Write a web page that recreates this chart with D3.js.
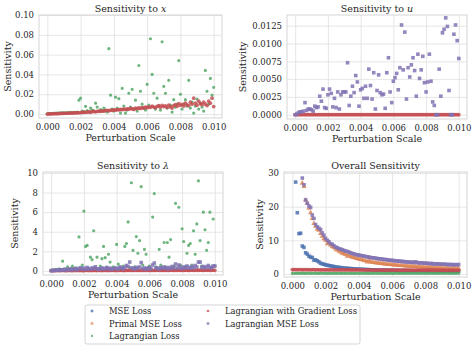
<!DOCTYPE html>
<html>
<head>
<meta charset="utf-8">
<script src="https://cdn.jsdelivr.net/npm/d3@7"></script>
<style>
  body { margin: 0; background: #fff; }
  text { font-family: "DejaVu Serif", serif; fill: #262626; }
</style>
</head>
<body>
<div id="chart"></div>
<script>
// perturbation scale grid (0.0000 .. 0.0100)
let scales = d3.range(0, 101).map(i => +(i * 0.0001).toFixed(4));

let seriesNames = ["MSE Loss", "Primal MSE Loss", "Lagrangian Loss", "Lagrangian with Gradient Loss", "Lagrangian MSE Loss"];
let xTicks = [0, 0.002, 0.004, 0.006, 0.008, 0.010];

// Sensitivity to x
let xLagrangian = [0.0003,0.0004,0.0006,0.0005,0.0008,0.0007,0.0009,0.0010,0.0012,0.0011,
0.0013,0.0012,0.0015,0.0014,0.0016,0.0013,0.0018,0.0015,0.0020,0.0140,
0.0160,0.0030,0.0025,0.0078,0.0035,0.0020,0.0060,0.0040,0.0030,0.0110,
0.0070,0.0025,0.0045,0.0030,0.0060,0.0040,0.0020,0.0660,0.0190,0.0050,
0.0030,0.0170,0.0060,0.0155,0.0010,0.0260,0.0080,0.0010,0.0040,0.0210,
0.0070,0.0250,0.0050,0.0140,0.0030,0.0490,0.0230,0.0100,0.0060,0.0040,
0.0300,0.0090,0.0760,0.0400,0.0210,0.0050,0.0160,0.0080,0.0040,0.0730,
0.0280,0.0210,0.0060,0.0340,0.0090,0.0020,0.0145,0.0070,0.0100,0.0540,
0.0200,0.0050,0.0100,0.0145,0.0080,0.0340,0.0060,0.0120,0.0010,0.0080,
0.0150,0.0050,0.0110,0.0070,0.0030,0.0440,0.0230,0.0100,0.0360,0.0190,0.0270];
let xGradient = [0.0000,0.0001,0.0002,0.0002,0.0003,0.0004,0.0004,0.0005,0.0006,0.0006,
0.0007,0.0008,0.0008,0.0009,0.0010,0.0010,0.0011,0.0012,0.0012,0.0013,
0.0015,0.0016,0.0018,0.0017,0.0020,0.0022,0.0019,0.0024,0.0026,0.0023,
0.0028,0.0030,0.0027,0.0032,0.0029,0.0035,0.0038,0.0033,0.0040,0.0036,
0.0042,0.0039,0.0045,0.0041,0.0048,0.0044,0.0050,0.0046,0.0053,0.0049,
0.0058,0.0052,0.0047,0.0060,0.0055,0.0062,0.0057,0.0066,0.0059,0.0070,
0.0064,0.0073,0.0068,0.0080,0.0071,0.0065,0.0078,0.0084,0.0069,0.0088,
0.0075,0.0082,0.0066,0.0090,0.0072,0.0060,0.0085,0.0095,0.0078,0.0105,
0.0088,0.0098,0.0080,0.0110,0.0092,0.0085,0.0120,0.0100,0.0160,0.0110,
0.0090,0.0130,0.0105,0.0095,0.0120,0.0100,0.0085,0.0130,0.0110,0.0160,0.0075];

// Sensitivity to u
let uGradient = [0,0,0,0,0,0,0,0,0,0, 0,0,0,0,0,0,0,0,0,0, 0,0,0,0,0,0,0,0,0,0,
0,0,0,0,0,0,0,0,0,0, 0,0,0,0,0,0,0,0,0,0, 0,0,0,0,0,0,0,0,0,0,
0,0,0,0,0,0,0,0,0,0, 0,0,0,0,0,0,0,0,0,0, 0,0,0,0,0,0,0,0,0,0,
0,0,0,0,0,0,0,0,0,0, 0];
let uLagMSE = [0.0000,0.0001,0.0003,0.0004,0.0004,0.0005,0.0017,0.0006,0.0008,0.0008,
0.0007,0.0005,0.0012,0.0010,0.0011,0.0026,0.0019,0.0036,0.0010,0.0009,
0.0028,0.0036,0.0030,0.0011,0.0023,0.0010,0.0032,0.0008,0.0028,0.0032,
0.0032,0.0032,0.0073,0.0013,0.0026,0.0040,0.0031,0.0055,0.0046,0.0012,
0.0035,0.0037,0.0023,0.0040,0.0023,0.0064,0.0041,0.0022,0.0059,0.0008,
0.0034,0.0056,0.0031,0.0028,0.0029,0.0009,0.0059,0.0080,0.0032,0.0017,
0.0047,0.0052,0.0058,0.0035,0.0066,0.0126,0.0063,0.0116,0.0022,0.0066,
0.0053,0.0070,0.0080,0.0062,0.0026,0.0085,0.0051,0.0063,0.0082,0.0045,
0.0032,0.0046,0.0085,0.0047,0.0018,0.0013,0.0000,0.0000,0.0064,0.0026,
0.0115,0.0120,0.0136,0.0124,0.0034,0.0000,0.0000,0.0113,0.0126,0.0104,0.0079];

// Sensitivity to lambda
let lamLagrangian = [0.05,0.10,0.08,0.15,0.10,0.20,0.12,0.99,0.20,0.15,
0.40,0.10,0.25,0.50,0.20,0.30,0.15,3.47,0.30,0.60,
6.10,2.50,2.60,0.20,1.40,1.15,4.10,0.30,1.40,0.20,
0.50,1.25,2.50,1.35,0.30,1.70,0.90,0.20,0.40,0.10,
2.70,0.70,0.30,0.20,0.50,2.50,2.80,5.00,0.30,9.00,
2.10,0.40,3.50,1.80,3.10,8.60,0.60,2.20,1.70,0.30,
0.50,0.20,5.50,7.90,0.40,0.30,2.20,0.60,0.20,2.90,
0.40,2.90,1.40,3.20,0.30,0.50,6.90,0.20,6.50,0.60,
4.30,3.00,0.40,1.80,2.60,2.80,0.60,4.10,1.70,4.80,
9.20,3.10,0.50,6.00,4.20,2.10,2.90,6.00,0.40,5.30,0.50];
let lamGradient = [0.02,0.03,0.02,0.03,0.04,0.02,0.03,0.04,0.03,0.02,
0.03,0.04,0.03,0.02,0.04,0.03,0.05,0.03,0.04,0.02,
0.03,0.04,0.05,0.03,0.04,0.03,0.05,0.04,0.03,0.04,
0.05,0.03,0.04,0.05,0.04,0.03,0.05,0.04,0.06,0.03,
0.04,0.05,0.04,0.06,0.03,0.05,0.04,0.06,0.05,0.04,
0.05,0.06,0.04,0.05,0.06,0.04,0.05,0.06,0.05,0.04,
0.06,0.05,0.04,0.06,0.05,0.07,0.04,0.05,0.06,0.05,
0.06,0.04,0.05,0.07,0.06,0.05,0.06,0.04,0.07,0.05,
0.06,0.05,0.07,0.06,0.05,0.06,0.07,0.05,0.06,0.08,
0.05,0.07,0.06,0.05,0.07,0.06,0.08,0.05,0.06,0.07,0.06];
let lamLagMSE = [0.02,0.04,0.05,0.08,0.06,0.10,0.08,0.12,0.10,0.15,
0.12,0.18,0.10,0.20,0.14,0.22,0.12,0.25,0.30,0.18,
0.28,0.15,0.35,0.20,0.18,0.30,0.25,0.42,0.20,0.15,
0.22,0.30,0.18,0.25,0.35,0.20,0.28,0.15,0.22,0.30,
0.25,0.18,0.40,0.30,0.22,0.35,0.55,0.45,0.90,0.30,
0.25,0.20,0.35,0.28,0.40,0.85,0.22,0.30,0.18,0.25,
0.35,0.20,0.60,0.80,0.30,0.25,0.20,0.35,0.28,0.40,
0.30,0.22,0.35,0.25,0.45,0.30,0.70,0.28,0.60,0.35,
0.25,0.40,0.30,0.50,0.35,0.28,0.45,0.30,0.55,0.40,
0.90,0.90,0.35,0.45,0.30,0.40,0.55,0.35,0.30,0.50,0.50];

// Overall sensitivity
let allMSE = [null,null,27.3,18.2,12.0,12.1,8.3,7.9,6.3,5.9,
5.3,5.0,4.9,4.1,4.2,3.9,3.6,3.2,3.0,2.9,
2.7,2.6,2.5,2.4,2.3,2.2,2.1,2.0,1.95,1.9,
1.8,1.75,1.7,1.68,1.62,1.6,1.55,1.52,1.5,1.46,
1.42,1.4,1.37,1.35,1.32,1.3,1.28,1.26,1.24,1.22,
1.2,1.19,1.18,1.16,1.15,1.14,1.12,1.11,1.1,1.09,
1.08,1.07,1.06,1.05,1.04,1.03,1.02,1.01,1.0,0.99,
0.98,0.97,0.97,0.96,0.95,0.94,0.94,0.93,0.92,0.92,
0.91,0.9,0.9,0.89,0.88,0.88,0.87,0.87,0.86,0.86,
0.85,0.85,0.84,0.84,0.83,0.83,0.82,0.82,0.81,0.81,0.80];
let allPrimal = [null,null,null,null,null,null,27.0,26.0,22.0,21.0,
19.5,18.2,16.5,15.0,14.2,13.3,13.0,12.0,11.2,10.5,
10.0,9.0,9.3,8.6,8.2,7.9,7.4,7.1,6.8,6.5,
6.2,6.0,5.8,5.3,5.7,5.2,5.0,4.9,4.7,4.6,
4.4,4.3,4.2,4.0,3.9,3.6,3.9,3.6,3.5,3.4,
3.35,3.3,3.2,3.15,3.1,3.0,2.95,2.9,2.85,2.8,
2.75,2.7,2.65,2.6,2.55,2.5,2.5,2.45,2.4,2.35,
2.3,2.3,2.25,2.2,2.2,2.15,2.1,2.1,2.05,2.0,
2.0,1.95,1.95,1.9,1.9,1.85,1.85,1.8,1.8,1.75,
1.75,1.7,1.7,1.7,1.65,1.65,1.6,1.6,1.6,1.55,1.6];
let allLagrangian = [0.20,0.22,0.18,0.25,0.21,0.19,0.23,0.20,0.17,0.24,
0.21,0.18,0.22,0.19,0.25,0.20,0.17,0.23,0.21,0.19,
0.22,0.18,0.24,0.20,0.19,0.23,0.17,0.21,0.25,0.19,
0.20,0.22,0.18,0.24,0.21,0.17,0.23,0.20,0.19,0.22,
0.18,0.25,0.21,0.19,0.23,0.20,0.17,0.22,0.24,0.19,
0.21,0.18,0.23,0.20,0.25,0.19,0.22,0.17,0.21,0.24,
0.20,0.18,0.23,0.21,0.19,0.25,0.20,0.22,0.17,0.23,
0.21,0.19,0.24,0.18,0.22,0.20,0.25,0.19,0.21,0.23,
0.18,0.22,0.20,0.24,0.19,0.21,0.17,0.23,0.20,0.25,
0.22,0.18,0.21,0.24,0.19,0.23,0.20,0.22,0.18,0.21,0.24];
let allGradient = [1.30,1.29,1.31,1.28,1.30,1.27,1.29,1.28,1.26,1.28,
1.27,1.25,1.27,1.26,1.24,1.26,1.25,1.23,1.25,1.24,
1.23,1.24,1.22,1.23,1.24,1.22,1.21,1.23,1.22,1.20,
1.22,1.21,1.20,1.22,1.21,1.19,1.21,1.20,1.19,1.20,
1.19,1.18,1.20,1.19,1.18,1.17,1.19,1.18,1.17,1.18,
1.17,1.16,1.18,1.17,1.16,1.17,1.15,1.16,1.17,1.15,
1.16,1.15,1.14,1.16,1.15,1.14,1.15,1.13,1.14,1.15,
1.14,1.13,1.14,1.12,1.13,1.14,1.12,1.13,1.12,1.11,
1.13,1.12,1.11,1.12,1.11,1.10,1.12,1.11,1.10,1.11,
1.10,1.11,1.09,1.10,1.11,1.09,1.10,1.09,1.10,1.08,1.09];
let allLagMSE = [null,null,null,null,null,null,28.5,26.5,22.0,21.0,
20.2,19.8,17.5,16.5,14.7,14.0,13.6,13.2,12.2,11.5,
10.6,10.0,9.6,9.0,8.8,8.4,8.0,7.8,7.5,7.4,
7.2,7.0,6.8,6.7,6.5,6.3,6.1,6.0,5.8,5.7,
5.6,5.5,5.4,5.3,5.2,5.1,5.0,4.9,4.8,4.8,
4.7,4.6,4.5,4.5,4.4,4.3,4.3,4.2,4.1,4.1,
4.0,4.0,3.9,3.9,3.8,3.8,3.7,3.7,3.6,3.6,
3.5,3.5,3.5,3.4,3.6,3.4,3.3,3.3,3.3,3.2,
3.2,3.2,3.1,3.1,3.1,3.0,3.0,3.0,3.0,2.9,
2.9,2.9,2.9,2.8,2.8,2.8,2.8,2.7,2.8,2.7,2.8];

let colors = ["#4c72b0", "#dd8452", "#55a868", "#c44e52", "#8172b3"];
let symbols = [d3.symbolSquare, d3.symbolTriangle, d3.symbolCircle, d3.symbolCircle, d3.symbolSquare];
let sizes = [13, 12, 8, 11, 13];

let panels = [
    { title: "x", box: [39, 222, 15, 118], yDomain: [-0.004, 0.1], yTicks: d3.range(0, 0.101, 0.02), yFmt: ".2f", ylabX: 8,
      series: [[2, xLagrangian], [3, xGradient]] },
    { title: "u", box: [287, 467, 15, 119], yDomain: [-0.0006, 0.0140], yTicks: d3.range(0, 0.0126, 0.0025), yFmt: ".4f", ylabX: 243,
      series: [[3, uGradient], [4, uLagMSE]] },
    { title: "λ", box: [43, 223, 172, 275], yDomain: [-0.42, 10.1], yTicks: [0, 2, 4, 6, 8, 10], yFmt: "d", ylabX: 15,
      series: [[2, lamLagrangian], [3, lamGradient], [4, lamLagMSE]] },
    { title: null, box: [284, 467, 172, 277], yDomain: [-0.9, 30.3], yTicks: [0, 10, 20, 30], yFmt: "d", ylabX: 260,
      series: [[0, allMSE], [1, allPrimal], [2, allLagrangian], [3, allGradient], [4, allLagMSE]] }
];

let svg = d3.select("#chart")
    .append("svg")
    .attr("width", 474)
    .attr("height", 348);

panels.forEach(function(p) {
    let [x0, x1, y0, y1] = p.box;

    let xScale = d3.scaleLinear()
        .domain([-0.0005, 0.0105])
        .range([x0, x1]);
    let yScale = d3.scaleLinear()
        .domain(p.yDomain)
        .range([y1, y0]);

    let g = svg.append("g");

    // grid
    g.append("g")
        .attr("transform", `translate(0, ${y1})`)
        .call(d3.axisBottom(xScale).tickValues(xTicks).tickSize(-(y1 - y0)).tickFormat(""))
        .call(a => a.select(".domain").remove())
        .selectAll("line").attr("stroke", "#e0e0e0").attr("stroke-width", 0.8);
    g.append("g")
        .attr("transform", `translate(${x0}, 0)`)
        .call(d3.axisLeft(yScale).tickValues(p.yTicks).tickSize(-(x1 - x0)).tickFormat(""))
        .call(a => a.select(".domain").remove())
        .selectAll("line").attr("stroke", "#e0e0e0").attr("stroke-width", 0.8);

    g.append("rect")
        .attr("x", x0).attr("y", y0)
        .attr("width", x1 - x0).attr("height", y1 - y0)
        .attr("fill", "none")
        .attr("stroke", "#d5d5d5")
        .attr("stroke-width", 1);

    // tick labels
    let xAxis = g.append("g")
        .attr("transform", `translate(0, ${y1})`)
        .call(d3.axisBottom(xScale).tickValues(xTicks).tickSize(0).tickPadding(6).tickFormat(d3.format(".3f")));
    let yAxis = g.append("g")
        .attr("transform", `translate(${x0}, 0)`)
        .call(d3.axisLeft(yScale).tickValues(p.yTicks).tickSize(0).tickPadding(5).tickFormat(d3.format(p.yFmt)));
    [xAxis, yAxis].forEach(a => {
        a.select(".domain").remove();
        a.selectAll("text").attr("font-family", "DejaVu Serif").attr("font-size", 8.5).attr("fill", "#262626");
    });

    // points
    p.series.forEach(function(s) {
        let k = s[0];
        let pts = scales.map((v, i) => ({ x: v, y: s[1][i] })).filter(d => d.y !== null);
        g.append("g")
            .selectAll("path")
            .data(pts)
            .enter()
            .append("path")
            .attr("d", d3.symbol().type(symbols[k]).size(sizes[k]))
            .attr("transform", d => `translate(${xScale(d.x)}, ${yScale(d.y)})`)
            .attr("fill", colors[k])
            .attr("opacity", 0.85);
    });

    // titles and labels
    let title = g.append("text")
        .attr("x", (x0 + x1) / 2)
        .attr("y", y0 - 3)
        .attr("text-anchor", "middle")
        .attr("font-size", 9.5);
    if (p.title) {
        title.append("tspan").text("Sensitivity to ");
        title.append("tspan").attr("font-style", "italic").text(p.title);
    } else {
        title.text("Overall Sensitivity");
    }

    g.append("text")
        .attr("x", (x0 + x1) / 2)
        .attr("y", y1 + 23)
        .attr("text-anchor", "middle")
        .attr("font-size", 9.5)
        .text("Perturbation Scale");

    g.append("text")
        .attr("transform", `translate(${p.ylabX + 3}, ${(y0 + y1) / 2}) rotate(-90)`)
        .attr("text-anchor", "middle")
        .attr("font-size", 9.5)
        .text("Sensitivity");
});

// legend
let legend = svg.append("g");
legend.append("rect")
    .attr("x", 85).attr("y", 305)
    .attr("width", 275).attr("height", 39)
    .attr("rx", 2)
    .attr("fill", "#fff")
    .attr("stroke", "#d5d5d5");

let legendPos = [[92, 311], [92, 323.5], [92, 336], [208, 311], [208, 323.5]];
seriesNames.forEach(function(name, k) {
    let [lx, ly] = legendPos[k];
    legend.append("path")
        .attr("d", d3.symbol().type(symbols[k]).size(sizes[k] * 0.5))
        .attr("transform", `translate(${lx}, ${ly})`)
        .attr("fill", colors[k])
        .attr("opacity", 0.8);
    legend.append("text")
        .attr("x", lx + 17)
        .attr("y", ly + 3)
        .attr("font-size", 8.4)
        .text(name);
});
</script>
</body>
</html>
